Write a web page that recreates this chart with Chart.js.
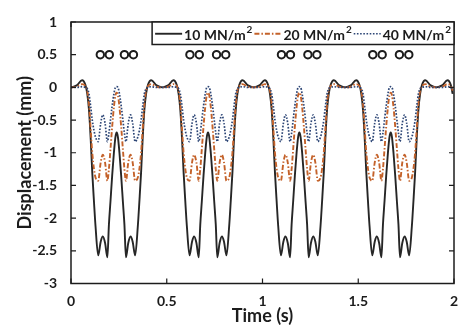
<!DOCTYPE html>
<html>
<head>
<meta charset="utf-8">
<title>Displacement</title>
<script src="https://cdn.jsdelivr.net/npm/chart.js@4.4.1/dist/chart.umd.min.js"></script>
<style>
  html, body { margin: 0; padding: 0; background: #fff; }
  #chart { display: block; }
</style>
</head>
<body>
<canvas id="chart" width="474" height="332"></canvas>
<script>
// time within one load cycle, measured from the middle of a rest plateau (s)
const cycleOffsets = [
  0, 0.03, 0.058, 0.075, 0.085, 0.094, 0.103, 0.111, 0.12, 0.128,
  0.142, 0.155, 0.166, 0.178, 0.19, 0.198, 0.206, 0.215, 0.224, 0.232,
  0.2385,
  0.245, 0.253, 0.262, 0.271, 0.279, 0.287, 0.299, 0.311, 0.322, 0.335,
  0.349, 0.357, 0.366, 0.374, 0.383, 0.392, 0.402, 0.419, 0.447
];

// displacement over one cycle (mm)
const disp10 = [
  0, 0.03, 0.11, 0.04, -0.1, -0.35, -0.8, -1.3, -1.75, -2.12,
  -2.57, -2.36, -2.28, -2.38, -2.6, -2.1, -1.75, -1.35, -1.0, -0.76,
  -0.69,
  -0.76, -1.0, -1.35, -1.75, -2.1, -2.6, -2.38, -2.28, -2.36, -2.57,
  -2.12, -1.75, -1.3, -0.8, -0.35, -0.1, 0.04, 0.11, 0.03
];
const disp20 = [
  0, 0.01, 0.05, 0.02, -0.05, -0.25, -0.65, -1.0, -1.25, -1.38,
  -1.43, -1.15, -1.03, -1.15, -1.43, -1.25, -0.95, -0.6, -0.3, -0.12,
  -0.08,
  -0.12, -0.3, -0.6, -0.95, -1.25, -1.43, -1.15, -1.03, -1.15, -1.43,
  -1.38, -1.25, -1.0, -0.65, -0.25, -0.05, 0.02, 0.05, 0.01
];
const disp40 = [
  0, 0, 0.01, 0, -0.02, -0.1, -0.3, -0.5, -0.66, -0.76,
  -0.83, -0.55, -0.42, -0.55, -0.83, -0.7, -0.5, -0.28, -0.1, 0,
  0.01,
  0, -0.1, -0.28, -0.5, -0.7, -0.83, -0.55, -0.42, -0.55, -0.83,
  -0.76, -0.66, -0.5, -0.3, -0.1, -0.02, 0, 0.01, 0
];

// start of each cycle on the time axis (s)
const cycleStarts = [0, 0.477, 0.954, 1.431, 1.908];

// open circle markers above the troughs
const markerTimes = [
  0.153, 0.2, 0.279, 0.326,
  0.621, 0.67, 0.76, 0.808,
  1.099, 1.146, 1.237, 1.284,
  1.576, 1.625, 1.715, 1.764
];
const markerLevel = [0.5];

const xTicks = [0, 0.5, 1, 1.5, 2];
const yTicks = [-3, -2.5, -2, -1.5, -1, -0.5, 0, 0.5, 1];
const seriesNames = ['10 MN/m', '20 MN/m', '40 MN/m'];

const FONT = "Lato, 'Open Sans', sans-serif";
const INK = '#1c1c1c';

function buildSeries(values) {
  const pts = [];
  cycleStarts.forEach(start => {
    cycleOffsets.forEach((u, i) => {
      const t = +(start + u).toFixed(4);
      if (t <= 2) pts.push({ x: t, y: values[i] });
    });
  });
  return pts;
}

const styles = [
  { color: '#262626', dash: [], width: 1.9 },
  { color: '#c4622a', dash: [5, 2, 1.5, 2], width: 1.9 },
  { color: '#2d4676', dash: [1.6, 1.6], width: 1.7 }
];

// box frame with inward tick marks, like a MATLAB axes
const frameTicks = {
  id: 'frameTicks',
  afterDraw(chart) {
    const { ctx, chartArea: a, scales } = chart;
    const len = 5;
    ctx.save();
    ctx.strokeStyle = INK;
    ctx.lineWidth = 1.5;
    ctx.strokeRect(a.left, a.top, a.right - a.left, a.bottom - a.top);
    ctx.lineWidth = 1.2;
    ctx.beginPath();
    xTicks.forEach(v => {
      const px = scales.x.getPixelForValue(v);
      ctx.moveTo(px, a.bottom); ctx.lineTo(px, a.bottom - len);
      ctx.moveTo(px, a.top); ctx.lineTo(px, a.top + len);
    });
    yTicks.forEach(v => {
      const py = scales.y.getPixelForValue(v);
      ctx.moveTo(a.left, py); ctx.lineTo(a.left + len, py);
      ctx.moveTo(a.right, py); ctx.lineTo(a.right - len, py);
    });
    ctx.stroke();
    ctx.restore();
    drawLegend(chart);
  }
};

function drawLegend(chart) {
  const { ctx, chartArea: a } = chart;
  const main = 'bold 14px ' + FONT;
  const sup = 'bold 10px ' + FONT;
  const sampleW = 27, h = 22.5;
  ctx.save();
  const widths = seriesNames.map(name => {
    ctx.font = main;
    const w = ctx.measureText(name).width;
    ctx.font = sup;
    return w + 1 + ctx.measureText('2').width;
  });
  const total = 3 + widths.reduce((s, w) => s + sampleW + 2 + w, 0) + 2 * 2 + 3;
  const left = a.right - total;
  ctx.fillStyle = '#fff';
  ctx.fillRect(left, a.top, total, h);
  ctx.strokeStyle = INK;
  ctx.lineWidth = 1.5;
  ctx.strokeRect(left, a.top, total, h);

  let x = left + 3;
  const cy = a.top + h / 2 + 0.5;
  seriesNames.forEach((name, i) => {
    const st = styles[i];
    ctx.strokeStyle = st.color;
    ctx.lineWidth = st.width;
    ctx.setLineDash(st.dash);
    ctx.beginPath();
    ctx.moveTo(x, cy); ctx.lineTo(x + sampleW, cy);
    ctx.stroke();
    ctx.setLineDash([]);
    x += sampleW + 2;
    ctx.fillStyle = INK;
    ctx.textBaseline = 'alphabetic';
    ctx.textAlign = 'left';
    ctx.font = main;
    ctx.fillText(name, x, cy + 6);
    const w = ctx.measureText(name).width;
    ctx.font = sup;
    ctx.fillText('2', x + w + 1, cy - 1);
    x += widths[i] + 2;
  });
  ctx.restore();
}

const lineSets = [disp10, disp20, disp40].map((vals, i) => ({
  label: seriesNames[i] + '\u00b2',
  data: buildSeries(vals),
  borderColor: styles[i].color,
  borderWidth: styles[i].width,
  borderDash: styles[i].dash,
  pointRadius: 0,
  fill: false,
  cubicInterpolationMode: 'monotone',
  order: 3 - i
}));

const markerSet = {
  label: 'markers',
  type: 'scatter',
  data: markerTimes.map(t => ({ x: t, y: markerLevel[0] })),
  pointStyle: 'circle',
  pointRadius: 3.7,
  pointBorderWidth: 2,
  pointBorderColor: INK,
  pointBackgroundColor: '#fff',
  showLine: false,
  order: 0
};

const tickFont = { family: FONT, size: 14, weight: 'bold' };
const plainLabel = v => String(v);

new Chart(document.getElementById('chart'), {
  type: 'line',
  data: { datasets: [...lineSets, markerSet] },
  options: {
    responsive: false,
    devicePixelRatio: 1,
    animation: false,
    events: [],
    layout: { padding: { top: 22, right: 20, left: 0, bottom: 0 } },
    plugins: { legend: { display: false }, tooltip: { enabled: false } },
    scales: {
      x: {
        type: 'linear',
        min: 0, max: 2,
        afterBuildTicks: s => { s.ticks = xTicks.map(v => ({ value: v })); },
        afterFit: s => { s.height = 48.5; },
        grid: { display: false },
        border: { display: false },
        ticks: { color: INK, padding: 2, font: tickFont, maxRotation: 0, callback: plainLabel },
        title: { display: true, text: 'Time (s)', color: INK, padding: { top: 0, bottom: 5 }, font: { family: FONT, size: 18, weight: 'bold' } }
      },
      y: {
        type: 'linear',
        min: -3, max: 1,
        afterBuildTicks: s => { s.ticks = yTicks.map(v => ({ value: v })); },
        afterFit: s => { s.width = 71; },
        grid: { display: false },
        border: { display: false },
        ticks: { color: INK, padding: 6, font: tickFont, callback: plainLabel },
        title: { display: true, text: 'Displacement (mm)', color: INK, padding: { top: 14, bottom: 0 }, font: { family: FONT, size: 18, weight: 'bold' } }
      }
    }
  },
  plugins: [frameTicks]
});
</script>
</body>
</html>
